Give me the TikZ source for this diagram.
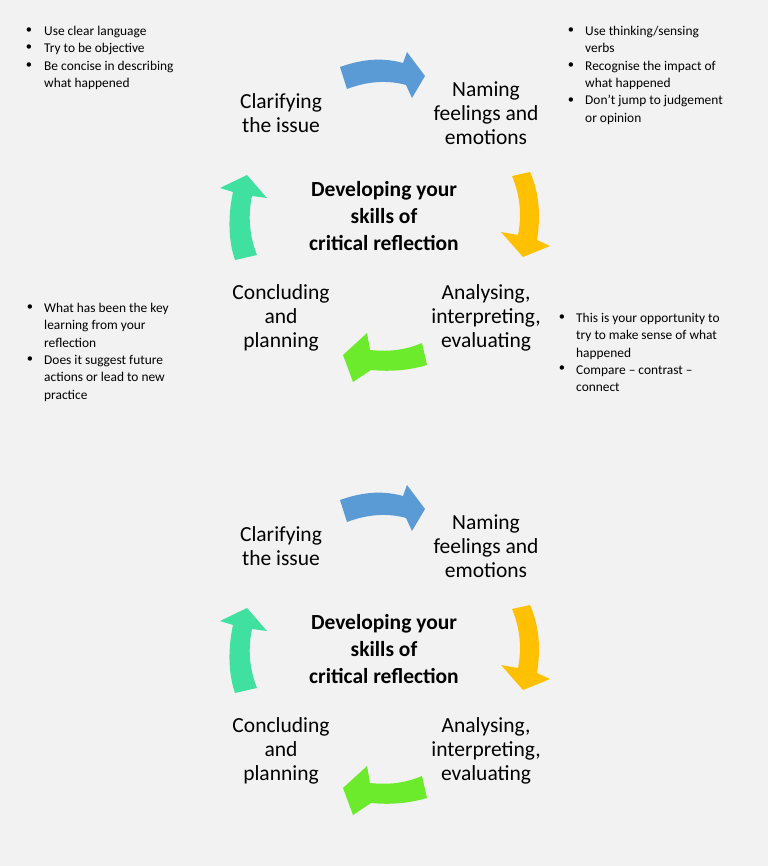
\documentclass[tikz,border=0pt]{standalone}
\usepackage{fontspec}
\setmainfont{Carlito}
\begin{document}
\begin{tikzpicture}[x=1pt,y=-1pt,
  lbl/.style={align=center,font=\fontsize{21.5}{24}\selectfont,inner sep=0pt},
  ctr/.style={align=center,font=\bfseries\fontsize{21.5}{27}\selectfont,inner sep=0pt},
  bl/.style={align=left,anchor=north west,font=\fontsize{13.4}{17.3}\selectfont,inner sep=0pt},
  dot/.style={font=\fontsize{12.5}{17.3}\selectfont,inner sep=0pt}]
\definecolor{bg}{HTML}{F2F2F2}
\definecolor{cblue}{HTML}{5B9BD5}
\definecolor{cyel}{HTML}{FFC000}
\definecolor{cgrn}{HTML}{6CEB2C}
\definecolor{cteal}{HTML}{40E0A0}
\fill[bg] (0,0) rectangle (768,866);
\useasboundingbox (0,0) rectangle (768,866);
\foreach \dy/\s in {0/a,433/b}{
\begin{scope}[yshift=-\dy pt]
\fill[cblue] (340,67) .. controls (365,58) and (385,58) .. (403,63) -- (407,52) -- (425,76) -- (412,98) -- (406,85) .. controls (388,80) and (368,81) .. (347,89) -- cycle;
\fill[cyel] (512,176) .. controls (520,195) and (522,215) .. (518,235) -- (501,232) -- (523,257) -- (550,246) -- (537,240) .. controls (541,215) and (539,192) .. (530,172) -- cycle;
\fill[cgrn] (422,343) .. controls (405,350) and (390,352) .. (370,350) -- (367,333) -- (343,355) -- (353,382) -- (371,370) .. controls (392,372) and (410,370) .. (427,365) -- cycle;
\fill[cteal] (235,260) .. controls (228,240) and (228,215) .. (233,192) -- (220,188) -- (247,175) -- (267,198) -- (252,196) .. controls (248,215) and (249,235) .. (257,255) -- cycle;
\node[lbl] (clar\s) at (281,113) {Clarifying\\the issue};
\node[lbl] (nam\s) at (486,113) {Naming\\feelings and\\emotions};
\node[ctr] (dev\s) at (384,216) {Developing your\\skills of\\critical reflection};
\node[lbl] (conc\s) at (281,318) {Concluding\\and\\planning};
\node[lbl] (ana\s) at (486,318) {Analysing,\\interpreting,\\evaluating};
\end{scope}}
% bullet lists
\node[bl] (tl) at (44,26) {Use clear language\\Try to be objective\\Be concise in describing\\what happened};
\foreach \y in {31,48,66}{\node[dot] at (29,\y) {•};}
\node[bl] (tr) at (585,26) {Use thinking/sensing\\verbs\\Recognise the impact of\\what happened\\Don’t jump to judgement\\or opinion};
\foreach \y in {31,66,101}{\node[dot] at (571,\y) {•};}
\node[bl] (ml) at (44,303) {What has been the key\\learning from your\\reflection\\Does it suggest future\\actions or lead to new\\practice};
\foreach \y in {308,360}{\node[dot] at (30,\y) {•};}
\node[bl] (mr) at (576,313) {This is your opportunity to\\try to make sense of what\\happened\\Compare – contrast –\\connect};
\foreach \y in {318,369}{\node[dot] at (562,\y) {•};}
\end{tikzpicture}
\end{document}
